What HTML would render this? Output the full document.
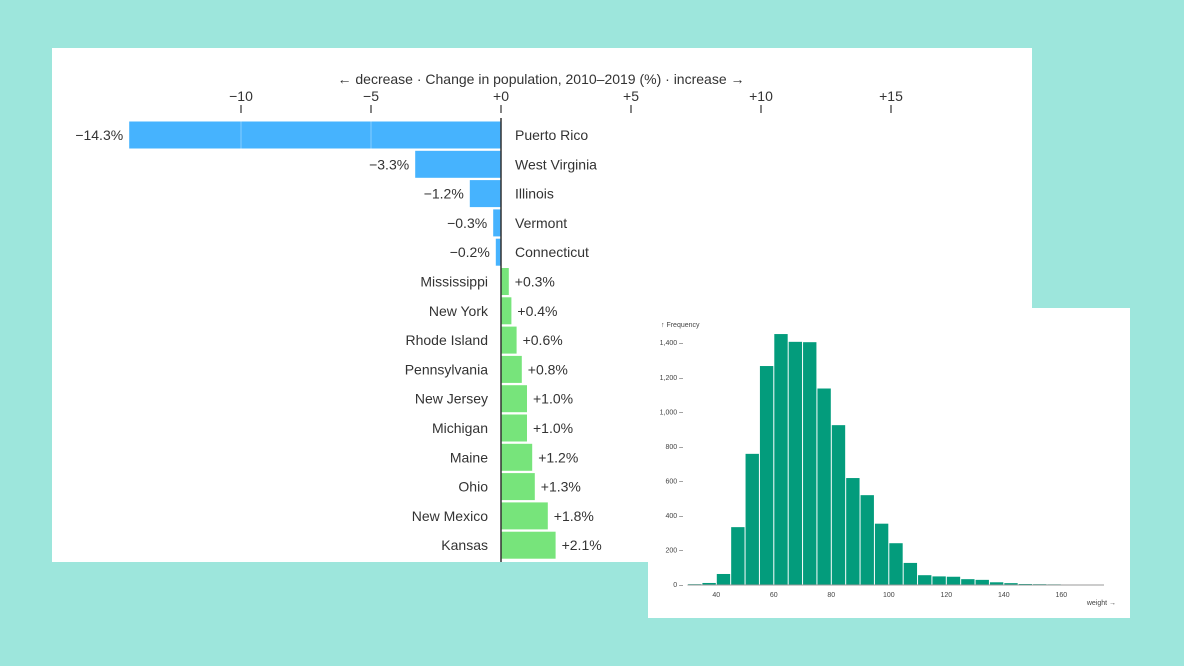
<!DOCTYPE html>
<html><head><meta charset="utf-8"><style>
body{margin:0;width:1184px;height:666px;background:#9de6dc;overflow:hidden;font-family:"Liberation Sans",sans-serif}
svg{position:absolute;left:0;top:0}
</style></head><body>
<svg id="s" width="1184" height="666">
<rect x="52" y="48" width="980" height="514" fill="#fff"/>
<g id="main"></g>
<rect x="648" y="308" width="482" height="310" fill="#fff"/>
<g id="hist"></g>
</svg>
<script>
const states=["Puerto Rico","West Virginia","Illinois","Vermont","Connecticut","Mississippi","New York","Rhode Island","Pennsylvania","New Jersey","Michigan","Maine","Ohio","New Mexico","Kansas"];
const changes=[-14.3,-3.3,-1.2,-0.3,-0.2,0.3,0.4,0.6,0.8,1.0,1.0,1.2,1.3,1.8,2.1];
const xTicks=[-10,-5,0,5,10,15];
const binStarts=[30,35,40,45,50,55,60,65,70,75,80,85,90,95,100,105,110,115,120,125,130,135,140,145,150,155,160];
const counts=[3,10,62,333,757,1265,1450,1405,1403,1135,923,617,518,353,240,126,55,48,46,32,28,14,9,4,3,2,1];
const hxTicks=[40,60,80,100,120,140,160];
const hyTicks=[0,200,400,600,800,1000,1200,1400];
const NS="http://www.w3.org/2000/svg";
function mk(p,t,a,txt){const e=document.createElementNS(NS,t);for(const k in a)e.setAttribute(k,a[k]);if(txt!==undefined)e.textContent=txt;p.appendChild(e);return e;}
const m=document.getElementById('main');
const X=v=>501+v*26, Y=i=>135+i*29.3;
let t=mk(m,'text',{x:541,y:84,'text-anchor':'middle','font-size':14,fill:'#333'},"← decrease · Change in population, 2010–2019 (%) · increase →");


xTicks.forEach(v=>{
 let l=mk(m,'text',{x:X(v),y:101,'text-anchor':'middle','font-size':14,fill:'#333'},(v<0?'−'+(-v):'+'+v));
 
 
 let k=mk(m,'line',{x1:X(v),x2:X(v),y1:105,y2:113,stroke:'#333','stroke-width':1.2});
 
 
});
changes.forEach((v,i)=>{
 const y=Y(i);
 let r=mk(m,'rect',{x:Math.min(X(v),X(0)),y:y-13.5,width:Math.abs(X(v)-X(0)),height:27,fill:v<0?'#46b3fe':'#77e47b'});
 
 
 const neg=v<0;
 let lab=mk(m,'text',{x:neg?X(v)-6:X(v)+6,y:y+5,'text-anchor':neg?'end':'start','font-size':14,fill:'#333'},(neg?'−'+(-v).toFixed(1):'+'+v.toFixed(1))+'%');
 
 
 let nm=mk(m,'text',{x:neg?X(0)+14:X(0)-13,y:y+5,'text-anchor':neg?'start':'end','font-size':14,fill:'#333'},states[i]);
 
 
});
xTicks.filter(v=>v<0).forEach(v=>{
 let g=mk(m,'line',{x1:X(v),x2:X(v),y1:121,y2:149,stroke:'#fff','stroke-opacity':0.35});
 
 
});
let z=mk(m,'line',{x1:501,x2:501,y1:118,y2:562,stroke:'#333','stroke-width':1.5});



const h=document.getElementById('hist');
const HX=v=>716.3+(v-40)*2.875, HY=c=>584.7-c*242/1400;
binStarts.forEach((b,i)=>{
 let r=mk(h,'rect',{x:HX(b)+0.5,y:HY(counts[i]),width:2.875*5-1,height:584.7-HY(counts[i]),fill:'#039c7c'});
 
 
});
let ax=mk(h,'line',{x1:687.5,x2:1104,y1:585,y2:585,stroke:'#999','stroke-width':1});


hxTicks.forEach(v=>{
 let l=mk(h,'text',{x:HX(v),y:597,'text-anchor':'middle','font-size':7,fill:'#444'},v);
 
 
});
hyTicks.forEach(v=>{
 let l=mk(h,'text',{x:683,y:HY(v)+2.5,'text-anchor':'end','font-size':7,fill:'#444'},v.toLocaleString('en-US')+' –');
 
 
});
let yt=mk(h,'text',{x:661,y:327,'font-size':7,fill:'#444'},"↑ Frequency");


let xt=mk(h,'text',{x:1116,y:605,'text-anchor':'end','font-size':7,fill:'#444'},"weight →");


</script>
</body></html>
